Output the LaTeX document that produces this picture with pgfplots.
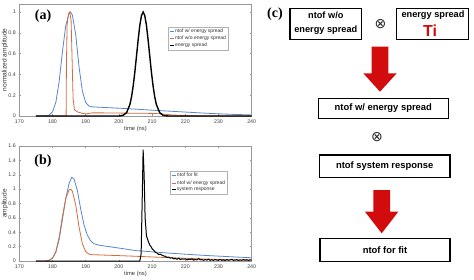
\documentclass[border=0pt]{standalone}
\usepackage{fontspec}
\setmainfont{Liberation Sans}
\newfontfamily\serifbf{Liberation Serif}
\newfontfamily\dejavu{DejaVu Sans}
\usepackage{pgfplots}
\pgfplotsset{compat=1.18}
\definecolor{mblue}{RGB}{88,134,200}
\definecolor{morange}{RGB}{210,108,62}
\definecolor{mred}{RGB}{210,12,12}
\pgfplotsset{myax/.style={
  scale only axis, width=232.4pt, xmin=170, xmax=240, xtick={170,180,...,240},
  axis line style={black!40, line width=0.4pt}, tick align=inside, major tick length=1.5pt,
  every tick/.style={black!40},
  tick label style={font=\fontsize{5.3}{6}\selectfont, text=black!75},
  /pgf/number format/assume math mode=true, /pgf/number format/fixed,
  xlabel={time (ns)},
  xlabel style={font=\fontsize{5.8}{7}\selectfont, text=black!80, at={(axis description cs:0.5,0)}, anchor=center, yshift=-12.5pt},
  ylabel style={font=\fontsize{6.6}{7}\selectfont, text=black!80, at={(axis description cs:-0.0615,0.5)}, anchor=center},
  legend style={font=\fontsize{5}{5.5}\selectfont, draw=black!30, inner sep=1.2pt, row sep=0.2pt, legend cell align=left, anchor=north west, text=black!80, nodes={inner sep=0.9pt}},
  legend image code/.code={\draw[#1, line width=0.8pt] (0pt,0pt) -- (4pt,0pt);},
}}
\begin{document}
\begin{tikzpicture}
\useasboundingbox (0,0) rectangle (474pt,279pt);
% panel (a)
\begin{axis}[myax, at={(19.3pt,163pt)}, anchor=south west, height=112.3pt,
  ymin=0, ymax=1.08, ytick={0,0.2,...,1}, ylabel={normalized amplitude},
  legend style={at={(axis description cs:0.64,0.795)}}]
\addplot[mblue, line width=0.8pt] coordinates {
(175,0) (178,0) (179,0.01) (180,0.04) (181,0.13) (182,0.33) (183,0.62) (184,0.87) (185,0.99) (185.4,1.0) (186,0.97) (187,0.78) (188,0.47) (189,0.24) (190,0.13) (191,0.095) (192,0.088) (195,0.083) (200,0.075) (205,0.066) (210,0.056) (215,0.047) (220,0.038) (225,0.029) (230,0.021) (235,0.015) (240,0.01)};
\addlegendentry{ntof w/ energy spread}
\addplot[morange, line width=0.8pt] coordinates {
(175,0) (184.1,0) (184.2,0.5) (184.4,0.88) (184.8,0.98) (185.2,1.0) (185.6,0.92) (185.9,0.55) (186.2,0.17) (186.6,0.06) (187.5,0.04) (189,0.025) (190,0.02) (191,0.025) (192,0.03) (195,0.03) (200,0.028) (205,0.027) (210,0.025) (213,0.02) (216,0.01) (220,0.004) (225,0) (240,0)};
\addlegendentry{ntof w/o energy spread}
\addplot[black, line width=1.4pt] coordinates {
(175,0) (200,0) (200.3,0.001) (201.3,0.007) (202.3,0.031) (203.3,0.109) (203.8,0.183) (204.3,0.288) (204.8,0.421) (205.3,0.575) (205.8,0.732) (206.3,0.871) (206.8,0.966) (207.3,1) (207.8,0.966) (208.3,0.871) (208.8,0.732) (209.3,0.575) (209.8,0.421) (210.3,0.288) (210.8,0.183) (211.3,0.109) (212.3,0.031) (213.3,0.007) (214.3,0.001) (215,0) (240,0)};
\addlegendentry{energy spread}
\end{axis}
% panel (b)
\begin{axis}[myax, at={(19.3pt,18pt)}, anchor=south west, height=115pt,
  ymin=0, ymax=1.6, ytick={0,0.2,...,1.6}, ylabel={amplitude},
  legend style={at={(axis description cs:0.648,0.783)}}]
\addplot[mblue, line width=0.8pt] coordinates {
(175,0) (178,0) (179,0.01) (180,0.04) (181,0.12) (182,0.3) (183,0.58) (184,0.87) (185,1.08) (185.8,1.165) (186.5,1.14) (187.5,0.98) (188.5,0.72) (189.5,0.5) (190.5,0.36) (191.5,0.28) (192.5,0.24) (194,0.22) (197,0.2) (200,0.18) (205,0.145) (210,0.128) (215,0.11) (220,0.095) (225,0.08) (230,0.068) (235,0.056) (240,0.045)};
\addlegendentry{ntof for fit}
\addplot[morange, line width=0.8pt] coordinates {
(175,0) (178,0) (179,0.01) (180,0.04) (181,0.13) (182,0.33) (183,0.62) (184,0.87) (185,0.99) (185.4,1.0) (186,0.97) (187,0.78) (188,0.47) (189,0.24) (190,0.13) (191,0.095) (192,0.088) (195,0.083) (200,0.075) (205,0.066) (210,0.056) (215,0.047) (220,0.038) (225,0.029) (230,0.021) (235,0.015) (240,0.01)};
\addlegendentry{ntof w/ energy spread}
\addplot[black, line width=1pt] coordinates {
(175,0) (206.3,0) (206.7,0.1) (207.0,0.8) (207.3,1.55) (207.6,1.2) (207.9,0.6) (208.3,0.35) (208.8,0.28) (209.3,0.22) (209.7,0.2) (210,0.17) (210.5,0.15) (211,0.12) (211.5,0.11) (212,0.09) (212.5,0.095) (213,0.08) (213.5,0.07) (214,0.065) (214.5,0.05) (215,0.055) (215.5,0.04) (216,0.045) (216.5,0.03) (217,0.035) (217.5,0.025) (218,0.04) (218.5,0.02) (219,0.03) (219.5,0.025) (220,0.03) (220.5,0.015) (221,0.025) (221.5,0.02) (222,0.03) (222.5,0.012) (223,0.02) (223.5,0.015) (224,0.035) (224.5,0.015) (225,0.02) (225.5,0.01) (226,0.02) (226.5,0.012) (227,0.025) (227.5,0.01) (228,0.018) (228.5,0.008) (229,0.02) (229.5,0.012) (230,0.01) (230.5,0.022) (231,0.01) (231.5,0.015) (232,0.008) (232.5,0.02) (233,0.01) (233.5,0.016) (234,0.022) (234.5,0.01) (235,0.012) (235.5,0.02) (236,0.008) (236.5,0.016) (237,0.01) (237.5,0.02) (238,0.012) (238.5,0.018) (239,0.01) (239.5,0.016) (240,0.012)};
\addlegendentry{system response}
\end{axis}
% labels and flowchart (pixel coordinates, y downward)
\begin{scope}[shift={(0,279pt)}, x=1pt, y=-1pt]
\node[font=\serifbf\bfseries\fontsize{14}{14}\selectfont] at (43,16) {(a)};
\node[font=\serifbf\bfseries\fontsize{14}{14}\selectfont] at (43,161) {(b)};
\node[font=\serifbf\bfseries\fontsize{14}{14}\selectfont] at (275,14) {(c)};
\draw[line width=1.4pt] (290,8.3) rectangle (361.7,39.3);
\node[font=\bfseries\fontsize{9.2}{13.5}\selectfont, align=center] at (325.8,23) {ntof w/o\\energy spread};
\node[font=\dejavu\fontsize{14}{14}\selectfont, text=black!85] at (380.5,24) {⊗};
\draw[line width=1.4pt] (396.7,8.3) rectangle (468.3,39.3);
\node[font=\bfseries\fontsize{9.2}{10}\selectfont] at (433,15.5) {energy spread};
\node[font=\bfseries\fontsize{16}{16}\selectfont, text=mred] at (430,30.5) {Ti};
\fill[mred] (371.7,46.7) -- (388.3,46.7) -- (388.3,73.3) -- (396.7,73.3) -- (380,91.7) -- (363.3,73.3) -- (371.7,73.3) -- cycle;
\draw[line width=1.4pt] (318.3,98.3) rectangle (448.3,118.3);
\node[font=\bfseries\fontsize{9.4}{10}\selectfont] at (383.3,108.3) {ntof w/ energy spread};
\node[font=\dejavu\fontsize{14}{14}\selectfont, text=black!85] at (377,136.7) {⊗};
\draw[line width=1.4pt] (319.3,155) rectangle (450,177.3);
\node[font=\bfseries\fontsize{9.4}{10}\selectfont] at (384.7,166.2) {ntof system response};
\fill[mred] (373.3,190) -- (390,190) -- (390,211.7) -- (398.3,211.7) -- (381.7,233.3) -- (365,211.7) -- (373.3,211.7) -- cycle;
\draw[line width=1.4pt] (320,238.3) rectangle (450,261.7);
\node[font=\bfseries\fontsize{9.4}{10}\selectfont] at (385,250) {ntof for fit};
\end{scope}
\end{tikzpicture}
\end{document}
